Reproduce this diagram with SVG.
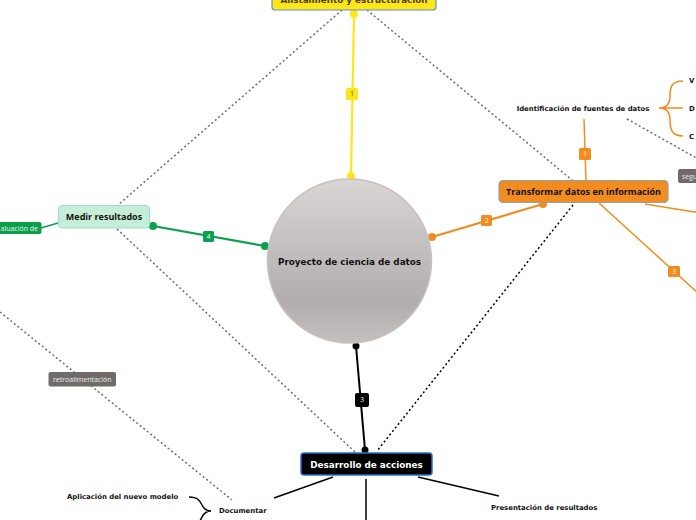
<svg xmlns="http://www.w3.org/2000/svg" width="696" height="520" viewBox="0 0 696 520">
<defs>
<linearGradient id="cg" x1="0" y1="0" x2="0" y2="1">
<stop offset="0" stop-color="#dad6d6"/>
<stop offset="0.75" stop-color="#b2adad"/>
<stop offset="0.88" stop-color="#bdb8b8"/>
<stop offset="1" stop-color="#c4bfbf"/>
</linearGradient>
<style>
.dot{stroke:#6e6e6e;stroke-width:1.5;stroke-dasharray:2 2.5;fill:none}
.bdot{stroke:#000;stroke-width:1.5;stroke-dasharray:2 2.5;fill:none}
.sub{font-family:"DejaVu Sans",Verdana,sans-serif;font-weight:bold;font-size:6.9px;fill:#111}
.main{font-family:"DejaVu Sans",Verdana,sans-serif;font-weight:bold;font-size:8.8px}
.os{font-family:"Open Sans","Noto Sans",sans-serif;font-weight:bold;font-size:9px;fill:#111}
.lbl{font-family:"Open Sans","Noto Sans",sans-serif;font-size:6.5px;text-anchor:middle}
.tag{font-family:"Open Sans","Noto Sans",sans-serif;font-size:7px;fill:#eee}
</style>
</defs>
<rect width="696" height="520" fill="#fff"/>
<g id="connectors">
<line class="dot" x1="342" y1="10" x2="118" y2="205"/>
<line class="dot" x1="367" y1="10" x2="572" y2="180"/>
<line class="dot" x1="117" y1="229" x2="355" y2="452"/>
<line class="dot" x1="0" y1="312" x2="232" y2="500"/>
<line class="dot" x1="627" y1="119" x2="700" y2="160"/>
<line class="bdot" x1="573" y1="205" x2="377" y2="451"/>
<g stroke="#ffe619" stroke-width="2.2" fill="#ffe619">
<line x1="354" y1="14" x2="351" y2="176"/>
<circle cx="354" cy="14" r="4" stroke="none"/>
<circle cx="351" cy="176" r="4" stroke="none"/>
</g>
<g stroke="#f28c1e" stroke-width="2.2" fill="#f28c1e">
<line x1="432" y1="237" x2="543" y2="204"/>
<circle cx="432" cy="237" r="4" stroke="none"/>
<circle cx="543" cy="204" r="4" stroke="none"/>
</g>
<g stroke="#0aa04c" stroke-width="2.2" fill="#0aa04c">
<line x1="153" y1="226" x2="265" y2="246"/>
<circle cx="153" cy="226" r="4" stroke="none"/>
<circle cx="265" cy="246" r="4" stroke="none"/>
</g>
<line x1="41" y1="228" x2="58" y2="223" stroke="#0aa04c" stroke-width="1.5"/>
<g stroke="#000" stroke-width="2" fill="#000">
<line x1="356" y1="346" x2="365" y2="450"/>
<circle cx="356" cy="346" r="3.5" stroke="none"/>
<circle cx="365" cy="450" r="3.5" stroke="none"/>
</g>
<g stroke="#f28c1e" stroke-width="1.5" fill="none">
<line x1="584" y1="119" x2="586" y2="181"/>
<line x1="645" y1="204" x2="700" y2="213"/>
<line x1="599" y1="203" x2="700" y2="295"/>
<path d="M683,81 C671,81 670,88 670,96 C670,104 667,108 659,108 M659,108 L683,108 M659,108 C667,108 670,112 670,120 C670,128 671,136 683,136"/>
</g>
<g stroke="#000" stroke-width="1.5" fill="none">
<line x1="333" y1="477" x2="274" y2="498"/>
<line x1="366" y1="479" x2="366" y2="520"/>
<line x1="418" y1="477" x2="499" y2="496"/>
<path d="M189,497 C198,497 200,501 202,505 C204,509 206,511 211,511 M211,511 C206,511 204,513 202,517 C200,521 198,526 189,526"/>
</g>
<rect x="346" y="88" width="12" height="12" rx="1.5" fill="#ffe619"/>
<text class="lbl" x="352" y="96.4" fill="#4d3d00">1</text>
<rect x="481" y="215" width="11" height="11" rx="1.5" fill="#f28c1e"/>
<text class="lbl" x="486.5" y="223" fill="#fff">2</text>
<rect x="203" y="231" width="11" height="11" rx="1.5" fill="#0aa04c"/>
<text class="lbl" x="208.5" y="239" fill="#fff">4</text>
<rect x="355" y="393" width="14" height="14" rx="2" fill="#000"/>
<text class="lbl" x="362" y="402.4" fill="#fff">3</text>
<rect x="579" y="148" width="12" height="12" rx="1.5" fill="#f28c1e"/>
<text class="lbl" x="585" y="156.4" fill="#fff">1</text>
<rect x="668" y="266" width="12" height="11" rx="1.5" fill="#f28c1e"/>
<text class="lbl" x="674" y="274" fill="#fff">3</text>
</g>
<g id="node-alistamiento">
<rect x="272" y="-12" width="164" height="22" rx="3" fill="#ffe619" stroke="#5d8fd0" stroke-width="1.2"/>
<text class="main" x="354" y="3" text-anchor="middle" fill="#4d3d00">Alistamiento y estructuración</text>
</g>
<g id="node-proyecto">
<circle cx="349.5" cy="261" r="82" fill="url(#cg)" stroke="#c8bfc0" stroke-width="1.5"/>
<text class="main" x="349.5" y="265" text-anchor="middle" fill="#111">Proyecto de ciencia de datos</text>
</g>
<g id="node-transformar">
<rect x="499" y="180.5" width="169" height="22" rx="4" fill="#f28c1e" stroke="#8fa4aa" stroke-width="1.2"/>
<text class="os" x="583.5" y="194.8" text-anchor="middle">Transformar datos en información</text>
</g>
<g id="node-identificacion">
<text class="sub" x="583" y="110.5" text-anchor="middle">Identificación de fuentes de datos</text>
</g>
<g id="node-v"><text class="sub" x="689" y="83">V</text></g>
<g id="node-d"><text class="sub" x="689" y="110.5">D</text></g>
<g id="node-c"><text class="sub" x="689" y="138.5">C</text></g>
<g id="node-seguimiento">
<rect x="678" y="169" width="24" height="14" rx="2" fill="#716a6a"/>
<text class="tag" x="682" y="178.8">segu</text>
</g>
<g id="node-medir">
<rect x="58.5" y="205.5" width="91" height="22.5" rx="4" fill="#c4eed5" stroke="#a3d6e6" stroke-width="1.2"/>
<text class="os" x="104" y="220" text-anchor="middle">Medir resultados</text>
</g>
<g id="node-evaluacion">
<rect x="-4" y="222" width="45.5" height="12" rx="2" fill="#0aa04c"/>
<text class="tag" x="38" y="230.5" text-anchor="end" fill="#fff">aluación de</text>
</g>
<g id="node-retro">
<rect x="48.5" y="372" width="67.5" height="14.5" rx="2" fill="#716a6a"/>
<text class="tag" x="82.2" y="381.8" text-anchor="middle">retroalimentación</text>
</g>
<g id="node-desarrollo">
<rect x="301" y="453" width="131" height="22" rx="3" fill="#000" stroke="#2b6cd4" stroke-width="1.5"/>
<text class="main" x="366.5" y="467.5" text-anchor="middle" fill="#fff">Desarrollo de acciones</text>
</g>
<g id="node-documentar"><text class="sub" x="219" y="513">Documentar</text></g>
<g id="node-presentacion"><text class="sub" x="491" y="510">Presentación de resultados</text></g>
<g id="node-aplicacion"><text class="sub" x="67" y="498.5">Aplicación del nuevo modelo</text></g>
</svg>
